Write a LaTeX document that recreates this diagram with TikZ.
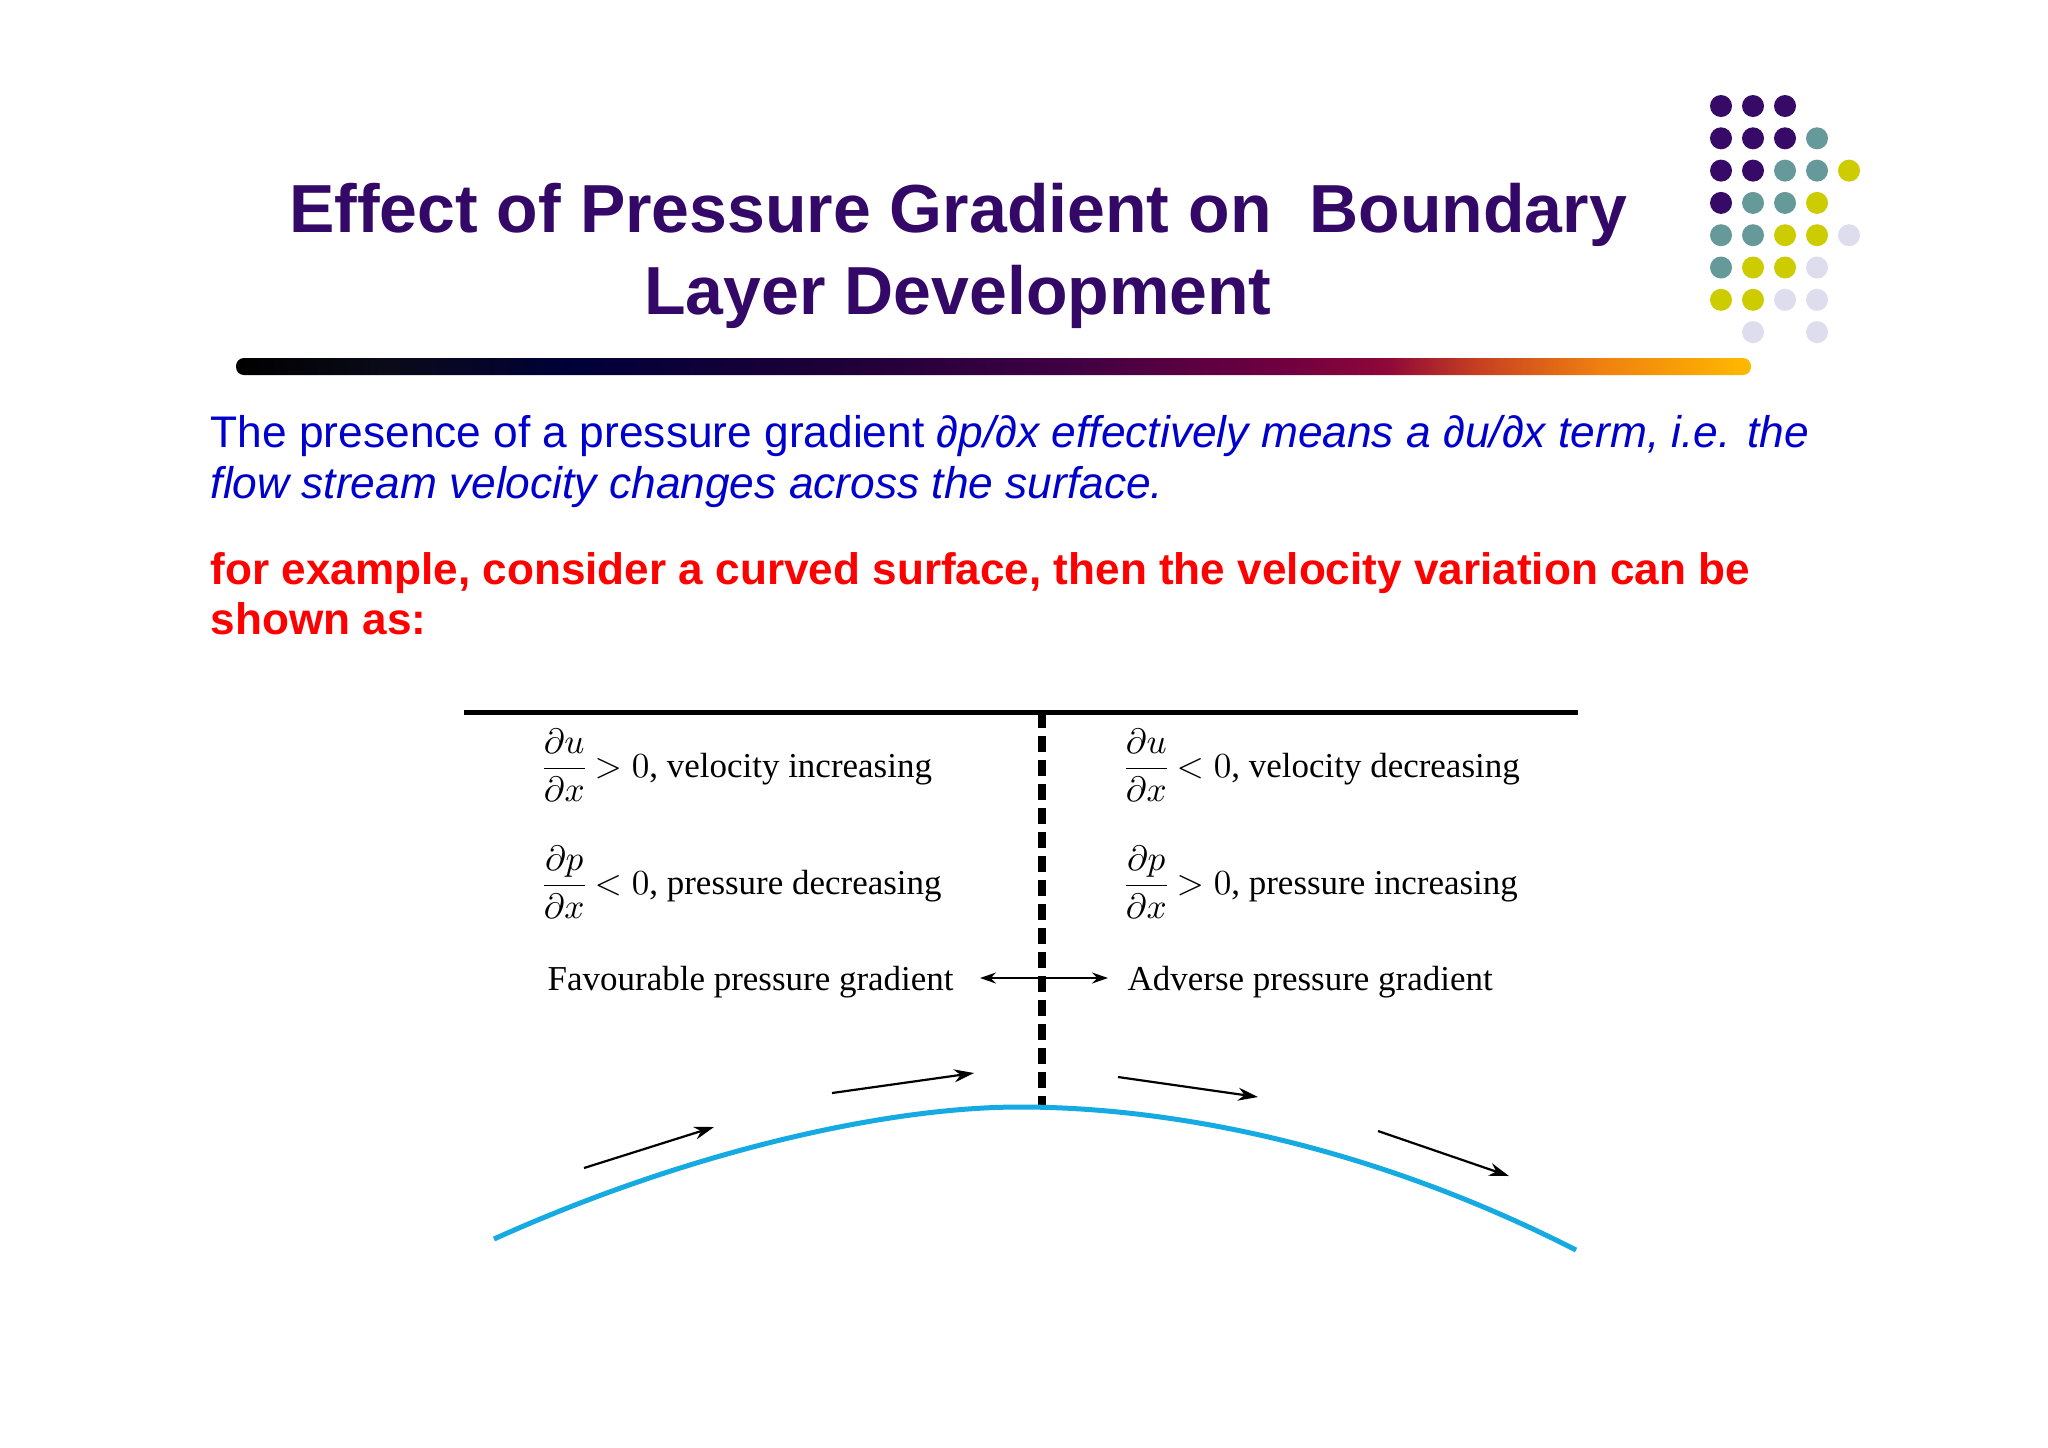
\documentclass[tikz,border=0pt]{standalone}
\usepackage{amsmath}
\usepackage{fontspec}
\setmainfont{Liberation Sans}
\newfontfamily\serifface{Liberation Serif}
\usepackage{tikz}
\usetikzlibrary{arrows.meta}

\definecolor{titlepurple}{RGB}{51,8,102}
\definecolor{dotP}{RGB}{56,10,104}
\definecolor{dotT}{RGB}{102,153,153}
\definecolor{dotY}{RGB}{204,204,0}
\definecolor{dotL}{RGB}{221,221,238}
\definecolor{introblue}{RGB}{0,0,204}
\definecolor{exred}{RGB}{255,0,0}
\definecolor{surface}{RGB}{22,170,226}

\pgfdeclarehorizontalshading{barshade}{100bp}{rgb(0bp)=(0,0,0); rgb(25bp)=(0,0,0);
    rgb(30bp)=(0.04,0.04,0.1); rgb(36bp)=(0,0,0.22); rgb(45bp)=(0.12,0,0.22);
    rgb(52.5bp)=(0.25,0,0.26); rgb(60bp)=(0.45,0,0.25); rgb(63bp)=(0.56,0.03,0.22);
    rgb(66bp)=(0.78,0.25,0.13); rgb(70bp)=(0.94,0.5,0.06); rgb(75bp)=(1,0.73,0);
    rgb(100bp)=(1,0.73,0)}

\begin{document}
\begin{tikzpicture}[x=0.1mm,y=-0.1mm,
    titletext/.style={inner sep=0pt,text=titlepurple,
        font=\fontsize{19.35pt}{23pt}\selectfont\bfseries},
    introtext/.style={inner sep=0pt,anchor=base west,text=introblue,
        font=\fontsize{12.6pt}{15pt}\selectfont},
    extext/.style={inner sep=0pt,anchor=base west,text=exred,
        font=\fontsize{12.55pt}{15pt}\selectfont\bfseries},
    lbl/.style={inner sep=0pt,anchor=base west,
        font=\serifface\fontsize{9.95pt}{12pt}\selectfont},
    gradarrow/.style={line width=0.2mm,-{Stealth[length=1.6mm,width=1.1mm]}},
    flow/.style={line width=0.22mm,-{Stealth[length=2mm,width=1.3mm]}}]
    \fill[white] (0,0) rectangle (2048,1447);
    \useasboundingbox (0,0) rectangle (2048,1447);

    % dot grid
    \foreach \c/\r/\col in {0/0/dotP,1/0/dotP,2/0/dotP,
        0/1/dotP,1/1/dotP,2/1/dotP,3/1/dotT,
        0/2/dotP,1/2/dotP,2/2/dotT,3/2/dotT,4/2/dotY,
        0/3/dotP,1/3/dotT,2/3/dotT,3/3/dotY,
        0/4/dotT,1/4/dotT,2/4/dotY,3/4/dotY,4/4/dotL,
        0/5/dotT,1/5/dotY,2/5/dotY,3/5/dotL,
        0/6/dotY,1/6/dotY,2/6/dotL,3/6/dotL,
        1/7/dotL,3/7/dotL}
        \fill[\col] ({1721+32*\c},{106+32.3*\r}) circle (1.1mm);

    % title
    \node[titletext,anchor=base] (title1) at (958,232) {Effect of Pressure Gradient on\ \ Boundary};
    \node[titletext,anchor=base] (title2) at (958,314) {Layer Development};
    \shade[shading=barshade,rounded corners=0.8mm] (236,358) rectangle (1751,375);

    % text
    \node[introtext] (intro1) at (210,447)
        {The presence of a pressure gradient \textit{∂p/∂x effectively means a ∂u/∂x term, i.e. the}};
    \node[introtext] (intro2) at (210,498)
        {\textit{flow stream velocity changes across the surface.}};
    \node[extext] (ex1) at (210,584)
        {for example, consider a curved surface, then the velocity variation can be};
    \node[extext] (ex2) at (210,634) {shown as:};

    % diagram
    \draw[line width=0.5mm] (464,712) -- (1578,712);
    \draw[line width=0.8mm,dash pattern=on 1.6mm off 0.8mm] (1042,712) -- (1042,1107);
    \node[lbl] (duL) at (539,777) {$\dfrac{\partial u}{\partial x}\mkern-2mu > 0$, velocity increasing};
    \node[lbl] (dpL) at (539,894) {$\dfrac{\partial p}{\partial x}\mkern-2mu < 0$, pressure decreasing};
    \node[lbl] (fav) at (547,990) {Favourable pressure gradient};
    \node[lbl] (duR) at (1121,777) {$\dfrac{\partial u}{\partial x}\mkern-2mu < 0$, velocity decreasing};
    \node[lbl] (dpR) at (1121,894) {$\dfrac{\partial p}{\partial x}\mkern-2mu > 0$, pressure increasing};
    \node[lbl] (adv) at (1127,990) {Adverse pressure gradient};
    \coordinate (mid) at (1042,978);
    \coordinate (favtip) at (980,978);
    \coordinate (advtip) at (1108,978);
    \draw[gradarrow] (mid) -- (favtip);
    \draw[gradarrow] (mid) -- (advtip);

    \draw[surface,line width=0.5mm] (494,1239) .. controls (680,1155) and (880,1107) .. (1020,1107)
        .. controls (1160,1107) and (1360,1140) .. (1576,1250);
    \foreach \xa/\ya/\xb/\yb in {584/1168/714/1127,832/1093/974/1073,
        1118/1077/1258/1097,1378/1131/1509/1176}
        \draw[flow] (\xa,\ya) -- (\xb,\yb);
\end{tikzpicture}
\end{document}
